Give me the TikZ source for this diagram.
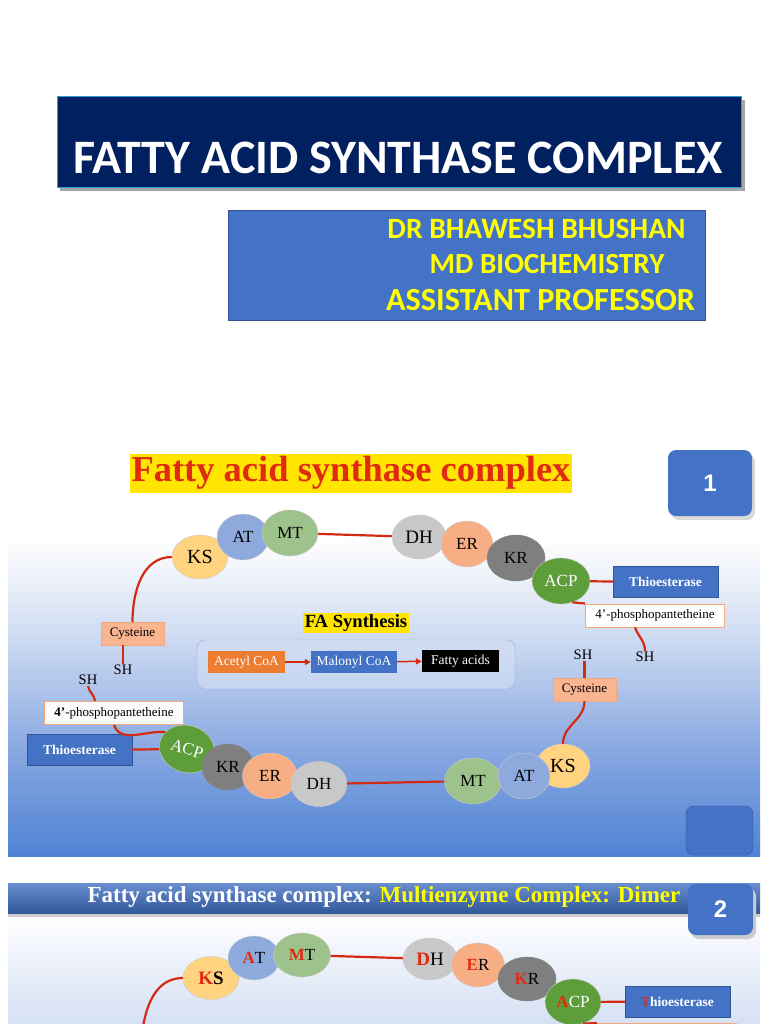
\documentclass[tikz,border=0pt]{standalone}
\usepackage{fontspec}
\setmainfont{Liberation Serif}
\newfontfamily\calibri{Carlito}
\newfontfamily\arialf{Liberation Sans}
\usepackage{tikz}
\usetikzlibrary{arrows.meta, positioning, shapes.geometric, calc}
\usepackage{xcolor}

\newcommand{\px}[1]{\fontsize{#1}{#1}\selectfont}
\newcommand{\rl}[1]{\textcolor{titlered}{\textbf{#1}}}

\definecolor{navy}{HTML}{002060}
\definecolor{navyedge}{HTML}{2E9BD6}
\definecolor{ppblue}{HTML}{4472C4}
\definecolor{ppblueD}{HTML}{2F5597}
\definecolor{ppyellow}{HTML}{FFFF00}
\definecolor{hlyellow}{HTML}{FFE500}
\definecolor{titlered}{HTML}{E02A12}
\definecolor{linkred}{HTML}{D42A12}
\definecolor{ksfill}{HTML}{FFD37F}
\definecolor{atfill}{HTML}{8EA9DB}
\definecolor{mtfill}{HTML}{9DC28B}
\definecolor{dhfill}{HTML}{C8C8C8}
\definecolor{erfill}{HTML}{F8AE84}
\definecolor{krfill}{HTML}{7F7F7F}
\definecolor{acpfill}{HTML}{5E9E3A}
\definecolor{cysfill}{HTML}{F9B490}
\definecolor{phosdraw}{HTML}{F4A77B}
\definecolor{acetfill}{HTML}{ED7D31}
\definecolor{deepblue}{HTML}{5083D5}
\definecolor{skyblue}{HTML}{85A6E0}
\definecolor{midblue}{HTML}{C3D3EF}
\definecolor{paleblue}{HTML}{E8EEF8}

\pgfdeclareverticalshading{slideone}{100bp}{color(0bp)=(deepblue); color(25bp)=(deepblue);
  color(37bp)=(skyblue); color(49bp)=(midblue); color(57bp)=(paleblue);
  color(63bp)=(white); color(100bp)=(white)}

\begin{document}
\begin{tikzpicture}[x=1pt, y=-1pt]
  \tikzset{enz/.style={ellipse, draw=black!20, line width=0.4pt, inner sep=0pt, font=\px{17}}}
  \tikzset{link/.style={draw=linkred, line width=2.2pt}}
  \tikzset{thiobox/.style={rectangle, fill=ppblue, draw=ppblueD, minimum width=105,
                           minimum height=31, text=white, font=\bfseries\px{13.5}}}
  \tikzset{phosbox/.style={rectangle, fill=white!90!midblue, draw=phosdraw, line width=1pt,
                           minimum width=139, minimum height=23, font=\px{13}}}
  \tikzset{cysbox/.style={rectangle, fill=cysfill, draw=phosdraw, minimum width=63,
                          minimum height=23, font=\px{13}}}
  \tikzset{shlabel/.style={font=\px{14.5}, inner sep=1pt}}
  \tikzset{flowbox/.style={rectangle, minimum width=77, minimum height=22, text=white,
                           font=\px{13.5}}}
  \tikzset{numbox/.style={rectangle, rounded corners=8pt, fill=ppblue, text=white,
                          font=\arialf\bfseries\px{24}}}

  \useasboundingbox (0,0) rectangle (768,1024);
  \clip (0,0) rectangle (768,1024);
  \fill[white] (0,0) rectangle (768,1024);

  % Cover slide
  \fill[black!35] (60,100) rectangle (745,191);
  \node[rectangle, fill=navy, draw=navyedge, minimum width=684, minimum height=91] (cover) at (399,141.5) {};
  \node[text=white, font=\calibri\bfseries\px{48}] (covertitle) at (398,158) {FATTY ACID SYNTHASE COMPLEX};
  \node[rectangle, fill=ppblue, draw=ppblueD, minimum width=477, minimum height=110] (author) at (466.5,265) {};
  \node[text=ppyellow, font=\calibri\bfseries\px{29.5}] (authname) at (536.5,229) {DR BHAWESH BHUSHAN};
  \node[text=ppyellow, font=\calibri\bfseries\px{29.2}] (authdeg) at (547,264) {MD BIOCHEMISTRY};
  \node[text=ppyellow, font=\calibri\bfseries\px{32.3}] (authpost) at (540.5,300) {ASSISTANT PROFESSOR};

  % Slide 1 background
  \shade[shading=slideone] (8,437) rectangle (760,856);
  \node[fill=hlyellow, text=titlered, font=\bfseries\px{36.5}, inner xsep=2pt, inner ysep=1pt,
        minimum height=39] (slideAtitle) at (351,473) {Fatty acid synthase complex};
  \fill[black!15, rounded corners=8pt] (671,454) rectangle (755,520);
  \node[numbox, minimum width=84, minimum height=66] (numA) at (710,483) {1};
  \node[numbox, draw=ppblueD, minimum width=67, minimum height=49] (cornerA) at (719.5,830.5) {};

  % Upper chain
  \node[enz, fill=ksfill, minimum width=56, minimum height=44, font=\px{20}] (ksA) at (200,557) {KS};
  \node[enz, fill=atfill, minimum width=52, minimum height=46] (atA) at (243,537) {AT};
  \node[enz, fill=mtfill, minimum width=56, minimum height=46] (mtA) at (290,533) {MT};
  \node[enz, fill=dhfill, minimum width=54, minimum height=44, font=\px{19}] (dhA) at (419,537) {DH};
  \node[enz, fill=erfill, minimum width=52, minimum height=46] (erA) at (467,544) {ER};
  \node[enz, fill=krfill, draw=black!50, minimum width=58, minimum height=46] (krA) at (516,558) {KR};
  \node[enz, fill=acpfill, minimum width=58, minimum height=46, text=white] (acpA) at (561,581) {ACP};
  \node[thiobox] (thioA) at (665.5,582) {Thioesterase};
  \node[phosbox, fill=white] (phosA) at (655,615.5) {4’-phosphopantetheine};
  \node[shlabel] (shA1) at (583,655) {SH};
  \node[shlabel] (shA2) at (645,657) {SH};
  \node[cysbox] (cysA) at (584.5,689.5) {Cysteine};

  % Lower chain
  \node[enz, fill=ksfill, minimum width=54, minimum height=44, font=\px{20}] (ksB) at (563,766) {KS};
  \node[enz, fill=mtfill, minimum width=57, minimum height=46] (mtB) at (473,781) {MT};
  \node[enz, fill=atfill, minimum width=52, minimum height=46] (atB) at (524,776) {AT};
  \node[enz, fill=acpfill, minimum width=56, minimum height=47, text=white, rotate=-18] (acpB) at (187,749) {ACP};
  \node[enz, fill=krfill, draw=black!50, minimum width=52, minimum height=46] (krB) at (228,767) {KR};
  \node[enz, fill=erfill, minimum width=55, minimum height=46] (erB) at (270,776) {ER};
  \node[enz, fill=dhfill, minimum width=56, minimum height=45] (dhB) at (319,784) {DH};
  \node[thiobox] (thioB) at (79.5,750) {Thioesterase};
  \node[phosbox] (phosB) at (114,713) {\textbf{4’}-phosphopantetheine};
  \node[shlabel] (shB1) at (123,670) {SH};
  \node[shlabel] (shB2) at (88,680) {SH};
  \node[cysbox] (cysB) at (132.5,633.5) {Cysteine};

  % Links of slide 1
  \draw[link] (mtA) -- (dhA);
  \draw[link] (acpA) -- (thioA);
  \draw[link] (acpA.-62) -- (phosA.north west);
  \draw[link] ([xshift=-20pt]phosA.south) to[out=-70, in=90] (shA2.north);
  \draw[link] (cysA.north |- shA1.south) -- (cysA.north);
  \draw[link] (cysA.south) to[out=-90, in=90] (ksB.north);
  \draw[link] (dhB) -- (mtB);
  \draw[link] (ksA.west) to[out=180, in=90] (cysB.north);
  \draw[link] (cysB.south -| shB1.north) -- (shB1.north);
  \draw[link] (shB2.south) to[out=-80, in=95] ([xshift=-19pt]phosB.north);
  \draw[link] (phosB.south) to[out=-70, in=175] (acpB.160);
  \draw[link] (thioB) -- (acpB);

  % FA synthesis panel
  \node[fill=hlyellow, font=\bfseries\px{18.6}, inner sep=1.5pt] (fatitle) at (356,623) {FA Synthesis};
  \node[rectangle, rounded corners=8pt, fill=midblue!70, fill opacity=0.6, draw=ppblue!60,
        minimum width=318, minimum height=49] (fapanel) at (356,664.5) {};
  \node[flowbox, fill=acetfill] (acetyl) at (246.5,662) {Acetyl CoA};
  \node[flowbox, fill=ppblue, minimum width=86] (malonyl) at (354,662) {Malonyl CoA};
  \node[flowbox, fill=black] (fatty) at (460.5,661) {Fatty acids};
  \draw[draw=linkred, line width=1.5pt, -{Triangle[length=6pt, width=6pt]}] (acetyl) -- (malonyl);
  \draw[draw=linkred, line width=1.5pt, -{Triangle[length=6pt, width=6pt]}] (malonyl) -- (fatty);

  % Slide 2
  \shade[top color=white, bottom color=midblue!70] (8,913) rectangle (760,1024);
  \fill[black!20] (8,913) rectangle (760,917);
  \shade[top color=ppblue!80!white, bottom color=ppblueD!90!ppblue] (8,883) rectangle (760,913);
  \node[font=\bfseries\px{23}] (slideBtitle) at (384,897)
    {\textcolor{white}{Fatty acid synthase complex:} \textcolor{ppyellow}{Multienzyme Complex: Dimer}};
  \fill[black!20, rounded corners=8pt] (691,888) rectangle (756,939);
  \node[numbox, minimum width=65, minimum height=51] (numB) at (720.5,909.5) {2};

  \node[enz, fill=ksfill, minimum width=56, minimum height=43, font=\px{19}] (ks2) at (211,978) {\rl{K}\textbf{S}};
  \node[enz, fill=atfill, minimum width=52, minimum height=44] (at2) at (254,958) {\rl{A}T};
  \node[enz, fill=mtfill, minimum width=57, minimum height=44] (mt2) at (302,955) {\rl{M}T};
  \node[enz, fill=dhfill, minimum width=54, minimum height=42, font=\px{19}] (dh2) at (430,959) {\rl{D}H};
  \node[enz, fill=erfill, minimum width=53, minimum height=44] (er2) at (478,965) {\rl{E}R};
  \node[enz, fill=krfill, draw=black!50, minimum width=58, minimum height=44] (kr2) at (527,979) {\rl{K}R};
  \node[enz, fill=acpfill, minimum width=56, minimum height=46, text=white] (acp2) at (573,1002) {\rl{A}CP};
  \node[thiobox] (thio2) at (677.5,1001.5) {\rl{T}hioesterase};
  \node[phosbox] (phos2) at (667,1035) {};
  \coordinate (cys2top) at (140,1050);
  \draw[link] (mt2) -- (dh2);
  \draw[link] (acp2) -- (thio2);
  \draw[link] (acp2.-65) -- (phos2.north west);
  \draw[link] (ks2.west) to[out=180, in=85] (cys2top);
\end{tikzpicture}
\end{document}
